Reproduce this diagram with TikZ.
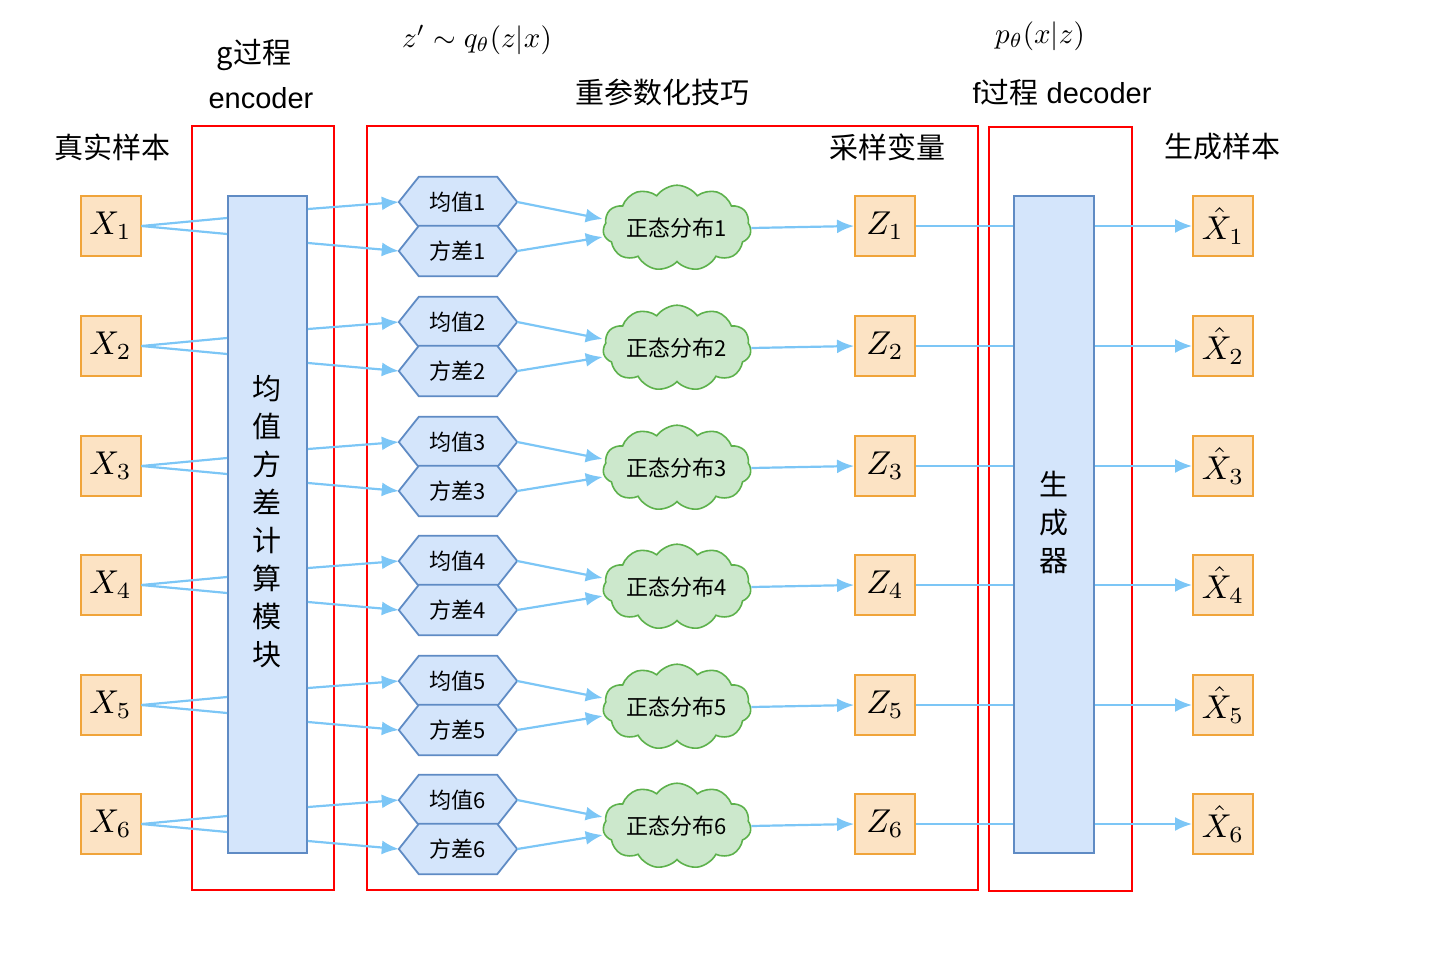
\documentclass[tikz,border=0pt]{standalone}
\usepackage{graphicx}
\usepackage{fontspec}
\setmainfont{Liberation Sans}
\newfontfamily\cjk{Noto Sans CJK SC}
\usetikzlibrary{shapes.symbols,arrows.meta}
\definecolor{ln}{HTML}{7CC6F6}
\definecolor{bfill}{HTML}{D4E5FB}
\definecolor{bdraw}{HTML}{5F8BC4}
\definecolor{ofill}{HTML}{FCE3C4}
\definecolor{odraw}{HTML}{F0A43A}
\definecolor{gfill}{HTML}{CCE8CC}
\definecolor{gdraw}{HTML}{5DB14C}
\newcommand{\bm}[1]{\scalebox{3.3}{$#1$}}
\begin{document}
\begin{tikzpicture}[x=1pt,y=-1pt,
 sq/.style={draw=odraw,fill=ofill,line width=2pt,minimum width=60pt,minimum height=60pt,inner sep=0pt},
 big/.style={draw=bdraw,fill=bfill,line width=1.8pt,inner sep=0pt},
 red/.style={draw=red,line width=2pt},
 hx/.style={minimum width=118pt,minimum height=50pt,inner sep=0pt,font=\cjk\fontsize{22}{23}\selectfont},
 cl/.style={cloud,cloud puffs=11,cloud puff arc=110,aspect=2.1,draw=gdraw,fill=gfill,line width=1.6pt,minimum width=148pt,minimum height=72pt,inner sep=0pt,font=\cjk\fontsize{22}{23}\selectfont},
 con/.style={draw=ln,line width=2.2pt},
 arr/.style={con,-{Latex[length=17pt,width=14pt]}},
 lab/.style={font=\cjk\fontsize{29}{31}\selectfont}]
\useasboundingbox (0,0) rectangle (1440,977);
\draw[red] (192,126) rectangle (334,890);
\draw[red] (367,126) rectangle (978,890);
\draw[red] (989,127) rectangle (1132,891);
\node[big,minimum width=79pt,minimum height=657pt] (enc) at (267.5,524.5) {};
\node[big,minimum width=80pt,minimum height=657pt] (dec) at (1054,524.5) {};
\node[lab,align=center] (enct) at (267,522) {均\\[7pt]值\\[7pt]方\\[7pt]差\\[7pt]计\\[7pt]算\\[7pt]模\\[7pt]块};
\node[lab,align=center] (dect) at (1054,522) {生\\[7pt]成\\[7pt]器};
\node[lab] (t1) at (112,147) {真实样本};
\node[lab] (t2) at (254,55) {g{\cjk 过程}};
\node[font=\fontsize{29}{31}\selectfont] (t3) at (261,98) {encoder};
\node (t4) at (477,40) {\scalebox{2.9}{$z'\sim q_\theta(z|x)$}};
\node[lab] (t5) at (662,92) {重参数化技巧};
\node[lab] (t6) at (887,147) {采样变量};
\node (t7) at (1040,36) {\scalebox{2.9}{$p_\theta(x|z)$}};
\node[font=\fontsize{29}{31}\selectfont] (t8) at (1062,92) {f{\cjk 过程} decoder};
\node[lab] (t9) at (1222,147) {生成样本};
\foreach \i/\y in {1/226,2/346,3/466,4/585,5/705,6/824}{
 \node[sq] (x\i) at (110.5,\y) {\bm{X_{\i}}};
 \node[sq] (z\i) at (885,\y) {\bm{Z_{\i}}};
 \node[sq] (h\i) at (1223,\y) {\bm{\hat X_{\i}}};
 \node[hx] (m\i) at (458,\y-24) {};
 \node[hx] (v\i) at (458,\y+25) {};
 \foreach \n in {m\i,v\i}{
  \draw[draw=bdraw,fill=bfill,line width=1.8pt] (\n.west) -- ([xshift=20pt]\n.north west) -- ([xshift=-20pt]\n.north east) -- (\n.east) -- ([xshift=-20pt]\n.south east) -- ([xshift=20pt]\n.south west) -- cycle;
 }
 \node[hx] (mt\i) at (m\i) {均值\i};
 \node[hx] (vt\i) at (v\i) {方差\i};
 \node[cl] (c\i) at (677,\y+2) {正态分布\i};
 \draw[con] (x\i.east) -- ([yshift=8pt]enc.west |- x\i);
 \draw[con] (x\i.east) -- ([yshift=-8pt]enc.west |- x\i);
 \draw[arr] ([yshift=17pt]enc.east |- x\i) -- (m\i.west);
 \draw[arr] ([yshift=-17pt]enc.east |- x\i) -- (v\i.west);
 \draw[arr] (m\i.east) -- ([yshift=9pt]c\i.west);
 \draw[arr] (v\i.east) -- ([yshift=-9pt]c\i.west);
 \draw[arr] (c\i.east) -- (z\i.west);
 \draw[con] (z\i.east) -- (dec.west |- z\i);
 \draw[arr] (dec.east |- z\i) -- (h\i.west);
}
\end{tikzpicture}
\end{document}
